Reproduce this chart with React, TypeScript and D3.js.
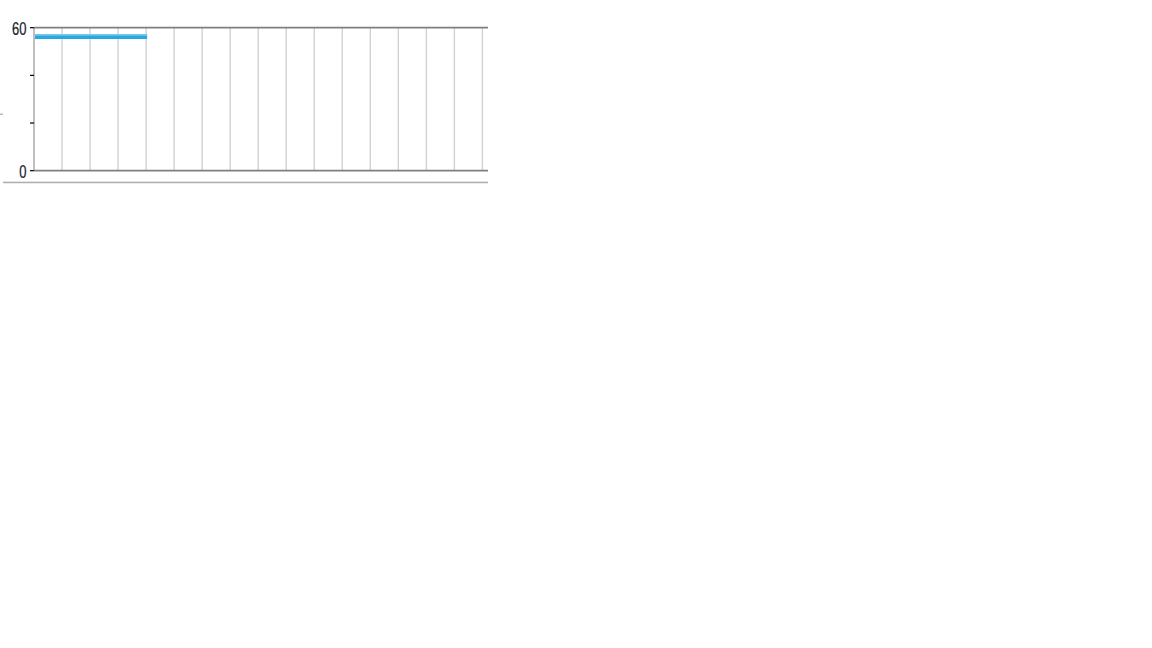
import React, { useEffect, useRef } from "react";
import * as d3 from "d3";

const xTicks = [1, 2, 3, 4, 5, 6, 7, 8, 9, 10, 11, 12, 13, 14, 15, 16];
const xDomain = [0, 16.2];
const yTicks = [0, 20, 40, 60];
const yLabels = ["0", "", "", "60"];
const seriesX = [0, 4];
const seriesY = [56.3, 56.3];

export default function App() {
  const ref = useRef<SVGSVGElement | null>(null);

  useEffect(() => {
    document.body.style.margin = "0";
    const svg = d3.select(ref.current);
    svg.selectAll("*").remove();

    const left = 34, right = 488, top = 27.7, bottom = 170.7;
    const x = d3.scaleLinear().domain(xDomain).range([left, right]);
    const y = d3.scaleLinear().domain([0, 60]).range([bottom, top]);

    // vertical gridlines
    svg.append("g")
      .selectAll("line")
      .data(xTicks)
      .join("line")
      .attr("x1", (d) => x(d))
      .attr("x2", (d) => x(d))
      .attr("y1", top)
      .attr("y2", bottom)
      .attr("stroke", "#d2d2d2")
      .attr("stroke-width", 1.4);

    // top and bottom frame lines
    svg.append("line")
      .attr("x1", left).attr("x2", right)
      .attr("y1", y(60)).attr("y2", y(60))
      .attr("stroke", "#808080").attr("stroke-width", 1.8);
    svg.append("line")
      .attr("x1", left).attr("x2", right)
      .attr("y1", y(0)).attr("y2", y(0))
      .attr("stroke", "#808080").attr("stroke-width", 1.8);

    // left axis line
    svg.append("line")
      .attr("x1", left).attr("x2", left)
      .attr("y1", top).attr("y2", bottom)
      .attr("stroke", "#808080").attr("stroke-width", 1);

    // y ticks
    svg.append("g")
      .selectAll("line")
      .data(yTicks)
      .join("line")
      .attr("x1", left - 4)
      .attr("x2", left)
      .attr("y1", (d) => y(d))
      .attr("y2", (d) => y(d))
      .attr("stroke", "#000")
      .attr("stroke-width", 1.2);

    const lx = left - 7.5;
    svg.append("g")
      .selectAll("text")
      .data(yTicks)
      .join("text")
      .attr("transform", (d) => `translate(${lx},${y(d)}) scale(0.72,1)`)
      .attr("dy", "0.4em")
      .attr("text-anchor", "end")
      .attr("font-family", "'Liberation Sans', Arial, sans-serif")
      .attr("font-size", 18)
      .attr("stroke", "#1a1a2a")
      .attr("stroke-width", 0.25)
      .attr("fill", "#1a1a2a")
      .text((d, i) => yLabels[i]);

    // small grey mark on left edge
    svg.append("line")
      .attr("x1", 0).attr("x2", 3)
      .attr("y1", y(30) + 15).attr("y2", y(30) + 15)
      .attr("stroke", "#aaa").attr("stroke-width", 1.2);

    // bottom separator
    svg.append("line")
      .attr("x1", 3).attr("x2", right)
      .attr("y1", 181.5).attr("y2", 181.5)
      .attr("stroke", "#e4e4e4").attr("stroke-width", 1.2);
    svg.append("line")
      .attr("x1", 3).attr("x2", right)
      .attr("y1", 182.7).attr("y2", 182.7)
      .attr("stroke", "#b0b0b0").attr("stroke-width", 1.2);

    // series line
    const pts = seriesX.map((v, i) => [v, seriesY[i]] as [number, number]);
    const line = d3.line<[number, number]>()
      .x((d) => x(d[0]) + 1)
      .y((d) => y(d[1]));
    svg.append("path")
      .attr("d", line(pts))
      .attr("fill", "none")
      .attr("stroke", "#27a8e0")
      .attr("stroke-width", 5);
    svg.append("path")
      .attr("d", line(pts))
      .attr("transform", "translate(0,-1.6)")
      .attr("fill", "none")
      .attr("stroke", "#72c8ee")
      .attr("stroke-width", 1.8);
  }, []);

  return (
    <svg
      ref={ref}
      width={1152}
      height={648}
      style={{ position: "absolute", left: 0, top: 0, background: "#fff" }}
    />
  );
}
